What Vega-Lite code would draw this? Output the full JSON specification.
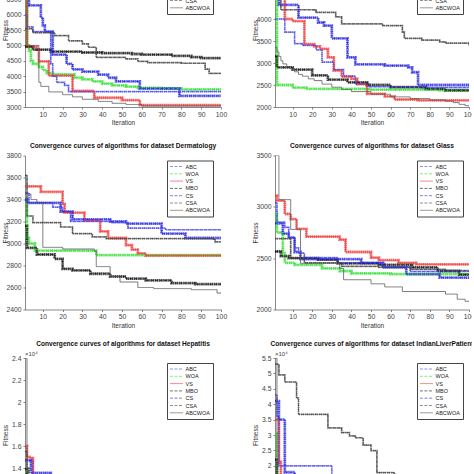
{
  "$schema": "https://vega.github.io/schema/vega-lite/v6.json",
  "background": "white",
  "padding": {"top": -50, "left": 2, "right": -3, "bottom": -55},
  "data": {"values": [
    {"p":"T1","a":"ABC","i":1,"v":6000},{"p":"T1","a":"ABC","i":2,"v":5600},{"p":"T1","a":"ABC","i":5,"v":5450},{"p":"T1","a":"ABC","i":14,"v":4400},{"p":"T1","a":"ABC","i":15,"v":4000},{"p":"T1","a":"ABC","i":17,"v":3800},{"p":"T1","a":"ABC","i":21,"v":3700},{"p":"T1","a":"ABC","i":23,"v":3500},{"p":"T1","a":"ABC","i":100,"v":3500},
    {"p":"T1","a":"WOA","i":1,"v":7000},{"p":"T1","a":"WOA","i":2,"v":5000},{"p":"T1","a":"WOA","i":3,"v":4830},{"p":"T1","a":"WOA","i":4,"v":4500},{"p":"T1","a":"WOA","i":5,"v":4400},{"p":"T1","a":"WOA","i":8,"v":4300},{"p":"T1","a":"WOA","i":10,"v":4200},{"p":"T1","a":"WOA","i":12,"v":4100},{"p":"T1","a":"WOA","i":15,"v":4060},{"p":"T1","a":"WOA","i":26,"v":3950},{"p":"T1","a":"WOA","i":30,"v":3900},{"p":"T1","a":"WOA","i":35,"v":3830},{"p":"T1","a":"WOA","i":40,"v":3760},{"p":"T1","a":"WOA","i":45,"v":3700},{"p":"T1","a":"WOA","i":52,"v":3660},{"p":"T1","a":"WOA","i":58,"v":3620},{"p":"T1","a":"WOA","i":70,"v":3600},{"p":"T1","a":"WOA","i":80,"v":3570},{"p":"T1","a":"WOA","i":100,"v":3570},
    {"p":"T1","a":"VS","i":1,"v":7500},{"p":"T1","a":"VS","i":2,"v":4950},{"p":"T1","a":"VS","i":7,"v":4860},{"p":"T1","a":"VS","i":8,"v":4480},{"p":"T1","a":"VS","i":13,"v":4020},{"p":"T1","a":"VS","i":25,"v":3520},{"p":"T1","a":"VS","i":36,"v":3300},{"p":"T1","a":"VS","i":50,"v":3220},{"p":"T1","a":"VS","i":59,"v":3060},{"p":"T1","a":"VS","i":100,"v":3050},
    {"p":"T1","a":"MBO","i":1,"v":4960},{"p":"T1","a":"MBO","i":5,"v":4860},{"p":"T1","a":"MBO","i":14,"v":4800},{"p":"T1","a":"MBO","i":30,"v":4770},{"p":"T1","a":"MBO","i":40,"v":4750},{"p":"T1","a":"MBO","i":55,"v":4720},{"p":"T1","a":"MBO","i":60,"v":4700},{"p":"T1","a":"MBO","i":75,"v":4660},{"p":"T1","a":"MBO","i":85,"v":4620},{"p":"T1","a":"MBO","i":90,"v":4590},{"p":"T1","a":"MBO","i":100,"v":4580},
    {"p":"T1","a":"CS","i":1,"v":6800},{"p":"T1","a":"CS","i":3,"v":6300},{"p":"T1","a":"CS","i":9,"v":5900},{"p":"T1","a":"CS","i":10,"v":5650},{"p":"T1","a":"CS","i":11,"v":5450},{"p":"T1","a":"CS","i":15,"v":4700},{"p":"T1","a":"CS","i":22,"v":4400},{"p":"T1","a":"CS","i":25,"v":4220},{"p":"T1","a":"CS","i":30,"v":4150},{"p":"T1","a":"CS","i":38,"v":4050},{"p":"T1","a":"CS","i":43,"v":3950},{"p":"T1","a":"CS","i":47,"v":3830},{"p":"T1","a":"CS","i":59,"v":3600},{"p":"T1","a":"CS","i":79,"v":3360},{"p":"T1","a":"CS","i":100,"v":3360},
    {"p":"T1","a":"CSA","i":1,"v":5540},{"p":"T1","a":"CSA","i":5,"v":5410},{"p":"T1","a":"CSA","i":16,"v":5320},{"p":"T1","a":"CSA","i":23,"v":5150},{"p":"T1","a":"CSA","i":30,"v":5050},{"p":"T1","a":"CSA","i":33,"v":4940},{"p":"T1","a":"CSA","i":37,"v":4610},{"p":"T1","a":"CSA","i":52,"v":4560},{"p":"T1","a":"CSA","i":58,"v":4480},{"p":"T1","a":"CSA","i":63,"v":4440},{"p":"T1","a":"CSA","i":80,"v":4420},{"p":"T1","a":"CSA","i":92,"v":4230},{"p":"T1","a":"CSA","i":94,"v":4090},{"p":"T1","a":"CSA","i":100,"v":4090},
    {"p":"T1","a":"ABCWOA","i":1,"v":6600},{"p":"T1","a":"ABCWOA","i":2,"v":5000},{"p":"T1","a":"ABCWOA","i":8,"v":3800},{"p":"T1","a":"ABCWOA","i":9,"v":3670},{"p":"T1","a":"ABCWOA","i":13,"v":3490},{"p":"T1","a":"ABCWOA","i":20,"v":3400},{"p":"T1","a":"ABCWOA","i":25,"v":3330},{"p":"T1","a":"ABCWOA","i":30,"v":3250},{"p":"T1","a":"ABCWOA","i":38,"v":3180},{"p":"T1","a":"ABCWOA","i":45,"v":3120},{"p":"T1","a":"ABCWOA","i":52,"v":3080},{"p":"T1","a":"ABCWOA","i":60,"v":3030},{"p":"T1","a":"ABCWOA","i":100,"v":3030},

    {"p":"T2","a":"ABC","i":1,"v":4000},{"p":"T2","a":"ABC","i":6,"v":3700},{"p":"T2","a":"ABC","i":11,"v":3440},{"p":"T2","a":"ABC","i":15,"v":3400},{"p":"T2","a":"ABC","i":22,"v":3300},{"p":"T2","a":"ABC","i":25,"v":3020},{"p":"T2","a":"ABC","i":31,"v":2850},{"p":"T2","a":"ABC","i":36,"v":2700},{"p":"T2","a":"ABC","i":42,"v":2520},{"p":"T2","a":"ABC","i":49,"v":2460},{"p":"T2","a":"ABC","i":75,"v":2440},{"p":"T2","a":"ABC","i":100,"v":2440},
    {"p":"T2","a":"WOA","i":1,"v":4500},{"p":"T2","a":"WOA","i":2,"v":2500},{"p":"T2","a":"WOA","i":10,"v":2440},{"p":"T2","a":"WOA","i":17,"v":2410},{"p":"T2","a":"WOA","i":50,"v":2395},{"p":"T2","a":"WOA","i":85,"v":2380},{"p":"T2","a":"WOA","i":100,"v":2375},
    {"p":"T2","a":"VS","i":1,"v":4800},{"p":"T2","a":"VS","i":6,"v":4000},{"p":"T2","a":"VS","i":10,"v":3950},{"p":"T2","a":"VS","i":16,"v":3430},{"p":"T2","a":"VS","i":21,"v":3380},{"p":"T2","a":"VS","i":24,"v":3320},{"p":"T2","a":"VS","i":28,"v":3130},{"p":"T2","a":"VS","i":31,"v":2830},{"p":"T2","a":"VS","i":35,"v":2690},{"p":"T2","a":"VS","i":40,"v":2640},{"p":"T2","a":"VS","i":43,"v":2520},{"p":"T2","a":"VS","i":48,"v":2300},{"p":"T2","a":"VS","i":57,"v":2240},{"p":"T2","a":"VS","i":62,"v":2170},{"p":"T2","a":"VS","i":74,"v":2150},{"p":"T2","a":"VS","i":100,"v":2150},
    {"p":"T2","a":"MBO","i":1,"v":3150},{"p":"T2","a":"MBO","i":2,"v":2900},{"p":"T2","a":"MBO","i":10,"v":2850},{"p":"T2","a":"MBO","i":20,"v":2720},{"p":"T2","a":"MBO","i":28,"v":2620},{"p":"T2","a":"MBO","i":38,"v":2560},{"p":"T2","a":"MBO","i":48,"v":2500},{"p":"T2","a":"MBO","i":60,"v":2450},{"p":"T2","a":"MBO","i":78,"v":2410},{"p":"T2","a":"MBO","i":88,"v":2380},{"p":"T2","a":"MBO","i":100,"v":2370},
    {"p":"T2","a":"CS","i":1,"v":4600},{"p":"T2","a":"CS","i":3,"v":4320},{"p":"T2","a":"CS","i":13,"v":4030},{"p":"T2","a":"CS","i":23,"v":3920},{"p":"T2","a":"CS","i":26,"v":3850},{"p":"T2","a":"CS","i":30,"v":3560},{"p":"T2","a":"CS","i":38,"v":3130},{"p":"T2","a":"CS","i":42,"v":2970},{"p":"T2","a":"CS","i":57,"v":2940},{"p":"T2","a":"CS","i":69,"v":2900},{"p":"T2","a":"CS","i":71,"v":2790},{"p":"T2","a":"CS","i":74,"v":2500},{"p":"T2","a":"CS","i":100,"v":2500},
    {"p":"T2","a":"CSA","i":1,"v":4700},{"p":"T2","a":"CSA","i":4,"v":4210},{"p":"T2","a":"CSA","i":21,"v":4200},{"p":"T2","a":"CSA","i":22,"v":4150},{"p":"T2","a":"CSA","i":32,"v":4050},{"p":"T2","a":"CSA","i":35,"v":3890},{"p":"T2","a":"CSA","i":56,"v":3850},{"p":"T2","a":"CSA","i":66,"v":3700},{"p":"T2","a":"CSA","i":67,"v":3560},{"p":"T2","a":"CSA","i":76,"v":3520},{"p":"T2","a":"CSA","i":85,"v":3480},{"p":"T2","a":"CSA","i":88,"v":3450},{"p":"T2","a":"CSA","i":100,"v":3400},
    {"p":"T2","a":"ABCWOA","i":1,"v":3350},{"p":"T2","a":"ABCWOA","i":2,"v":3250},{"p":"T2","a":"ABCWOA","i":3,"v":3150},{"p":"T2","a":"ABCWOA","i":4,"v":3050},{"p":"T2","a":"ABCWOA","i":5,"v":2980},{"p":"T2","a":"ABCWOA","i":7,"v":2920},{"p":"T2","a":"ABCWOA","i":9,"v":2860},{"p":"T2","a":"ABCWOA","i":11,"v":2800},{"p":"T2","a":"ABCWOA","i":13,"v":2740},{"p":"T2","a":"ABCWOA","i":15,"v":2700},{"p":"T2","a":"ABCWOA","i":18,"v":2640},{"p":"T2","a":"ABCWOA","i":21,"v":2600},{"p":"T2","a":"ABCWOA","i":25,"v":2520},{"p":"T2","a":"ABCWOA","i":30,"v":2450},{"p":"T2","a":"ABCWOA","i":35,"v":2400},{"p":"T2","a":"ABCWOA","i":40,"v":2350},{"p":"T2","a":"ABCWOA","i":50,"v":2290},{"p":"T2","a":"ABCWOA","i":60,"v":2230},{"p":"T2","a":"ABCWOA","i":70,"v":2190},{"p":"T2","a":"ABCWOA","i":80,"v":2160},{"p":"T2","a":"ABCWOA","i":88,"v":2130},{"p":"T2","a":"ABCWOA","i":92,"v":2100},{"p":"T2","a":"ABCWOA","i":95,"v":2060},{"p":"T2","a":"ABCWOA","i":98,"v":2030},{"p":"T2","a":"ABCWOA","i":100,"v":2010},

    {"p":"M1","a":"ABC","i":1,"v":3460},{"p":"M1","a":"ABC","i":3,"v":3370},{"p":"M1","a":"ABC","i":15,"v":3330},{"p":"M1","a":"ABC","i":20,"v":3290},{"p":"M1","a":"ABC","i":24,"v":3200},{"p":"M1","a":"ABC","i":45,"v":3190},{"p":"M1","a":"ABC","i":53,"v":3140},{"p":"M1","a":"ABC","i":72,"v":3125},{"p":"M1","a":"ABC","i":100,"v":3125},
    {"p":"M1","a":"WOA","i":1,"v":3400},{"p":"M1","a":"WOA","i":2,"v":3050},{"p":"M1","a":"WOA","i":3,"v":3000},{"p":"M1","a":"WOA","i":6,"v":2935},{"p":"M1","a":"WOA","i":37,"v":2895},{"p":"M1","a":"WOA","i":100,"v":2890},
    {"p":"M1","a":"VS","i":1,"v":3520},{"p":"M1","a":"VS","i":9,"v":3470},{"p":"M1","a":"VS","i":20,"v":3360},{"p":"M1","a":"VS","i":21,"v":3280},{"p":"M1","a":"VS","i":31,"v":3210},{"p":"M1","a":"VS","i":39,"v":3110},{"p":"M1","a":"VS","i":43,"v":3050},{"p":"M1","a":"VS","i":52,"v":2985},{"p":"M1","a":"VS","i":55,"v":2945},{"p":"M1","a":"VS","i":58,"v":2910},{"p":"M1","a":"VS","i":62,"v":2890},{"p":"M1","a":"VS","i":100,"v":2890},
    {"p":"M1","a":"MBO","i":1,"v":3160},{"p":"M1","a":"MBO","i":2,"v":2960},{"p":"M1","a":"MBO","i":7,"v":2900},{"p":"M1","a":"MBO","i":16,"v":2860},{"p":"M1","a":"MBO","i":20,"v":2770},{"p":"M1","a":"MBO","i":25,"v":2755},{"p":"M1","a":"MBO","i":34,"v":2725},{"p":"M1","a":"MBO","i":44,"v":2700},{"p":"M1","a":"MBO","i":52,"v":2680},{"p":"M1","a":"MBO","i":62,"v":2665},{"p":"M1","a":"MBO","i":75,"v":2640},{"p":"M1","a":"MBO","i":87,"v":2630},{"p":"M1","a":"MBO","i":100,"v":2625},
    {"p":"M1","a":"CS","i":1,"v":3400},{"p":"M1","a":"CS","i":2,"v":3370},{"p":"M1","a":"CS","i":19,"v":3290},{"p":"M1","a":"CS","i":25,"v":3220},{"p":"M1","a":"CS","i":44,"v":3200},{"p":"M1","a":"CS","i":52,"v":3180},{"p":"M1","a":"CS","i":70,"v":3090},{"p":"M1","a":"CS","i":82,"v":3050},{"p":"M1","a":"CS","i":100,"v":3045},
    {"p":"M1","a":"CSA","i":1,"v":3620},{"p":"M1","a":"CSA","i":2,"v":3250},{"p":"M1","a":"CSA","i":5,"v":3190},{"p":"M1","a":"CSA","i":19,"v":3150},{"p":"M1","a":"CSA","i":25,"v":3090},{"p":"M1","a":"CSA","i":35,"v":3060},{"p":"M1","a":"CSA","i":42,"v":3045},{"p":"M1","a":"CSA","i":96,"v":3040},{"p":"M1","a":"CSA","i":97,"v":3015},{"p":"M1","a":"CSA","i":100,"v":3015},
    {"p":"M1","a":"ABCWOA","i":1,"v":3450},{"p":"M1","a":"ABCWOA","i":4,"v":3400},{"p":"M1","a":"ABCWOA","i":7,"v":3370},{"p":"M1","a":"ABCWOA","i":10,"v":2965},{"p":"M1","a":"ABCWOA","i":20,"v":2950},{"p":"M1","a":"ABCWOA","i":36,"v":2930},{"p":"M1","a":"ABCWOA","i":37,"v":2790},{"p":"M1","a":"ABCWOA","i":44,"v":2700},{"p":"M1","a":"ABCWOA","i":49,"v":2650},{"p":"M1","a":"ABCWOA","i":58,"v":2600},{"p":"M1","a":"ABCWOA","i":66,"v":2590},{"p":"M1","a":"ABCWOA","i":85,"v":2580},{"p":"M1","a":"ABCWOA","i":98,"v":2550},{"p":"M1","a":"ABCWOA","i":100,"v":2545},

    {"p":"M2","a":"ABC","i":1,"v":3040},{"p":"M2","a":"ABC","i":2,"v":2850},{"p":"M2","a":"ABC","i":6,"v":2800},{"p":"M2","a":"ABC","i":8,"v":2700},{"p":"M2","a":"ABC","i":11,"v":2600},{"p":"M2","a":"ABC","i":13,"v":2550},{"p":"M2","a":"ABC","i":16,"v":2505},{"p":"M2","a":"ABC","i":33,"v":2455},{"p":"M2","a":"ABC","i":57,"v":2415},{"p":"M2","a":"ABC","i":70,"v":2370},{"p":"M2","a":"ABC","i":100,"v":2365},
    {"p":"M2","a":"WOA","i":1,"v":2930},{"p":"M2","a":"WOA","i":2,"v":2750},{"p":"M2","a":"WOA","i":5,"v":2550},{"p":"M2","a":"WOA","i":6,"v":2455},{"p":"M2","a":"WOA","i":11,"v":2435},{"p":"M2","a":"WOA","i":25,"v":2400},{"p":"M2","a":"WOA","i":34,"v":2375},{"p":"M2","a":"WOA","i":40,"v":2352},{"p":"M2","a":"WOA","i":60,"v":2345},{"p":"M2","a":"WOA","i":100,"v":2340},
    {"p":"M2","a":"VS","i":1,"v":3110},{"p":"M2","a":"VS","i":2,"v":3060},{"p":"M2","a":"VS","i":6,"v":2930},{"p":"M2","a":"VS","i":9,"v":2880},{"p":"M2","a":"VS","i":12,"v":2785},{"p":"M2","a":"VS","i":17,"v":2710},{"p":"M2","a":"VS","i":34,"v":2680},{"p":"M2","a":"VS","i":37,"v":2560},{"p":"M2","a":"VS","i":50,"v":2505},{"p":"M2","a":"VS","i":54,"v":2480},{"p":"M2","a":"VS","i":64,"v":2455},{"p":"M2","a":"VS","i":73,"v":2440},{"p":"M2","a":"VS","i":100,"v":2440},
    {"p":"M2","a":"MBO","i":1,"v":2565},{"p":"M2","a":"MBO","i":4,"v":2520},{"p":"M2","a":"MBO","i":8,"v":2500},{"p":"M2","a":"MBO","i":23,"v":2485},{"p":"M2","a":"MBO","i":33,"v":2450},{"p":"M2","a":"MBO","i":54,"v":2435},{"p":"M2","a":"MBO","i":71,"v":2410},{"p":"M2","a":"MBO","i":84,"v":2375},{"p":"M2","a":"MBO","i":95,"v":2340},{"p":"M2","a":"MBO","i":100,"v":2335},
    {"p":"M2","a":"CS","i":1,"v":2840},{"p":"M2","a":"CS","i":5,"v":2740},{"p":"M2","a":"CS","i":8,"v":2700},{"p":"M2","a":"CS","i":11,"v":2560},{"p":"M2","a":"CS","i":14,"v":2490},{"p":"M2","a":"CS","i":45,"v":2455},{"p":"M2","a":"CS","i":56,"v":2410},{"p":"M2","a":"CS","i":68,"v":2345},{"p":"M2","a":"CS","i":85,"v":2310},{"p":"M2","a":"CS","i":100,"v":2310},
    {"p":"M2","a":"CSA","i":1,"v":2690},{"p":"M2","a":"CSA","i":9,"v":2500},{"p":"M2","a":"CSA","i":16,"v":2455},{"p":"M2","a":"CSA","i":35,"v":2420},{"p":"M2","a":"CSA","i":54,"v":2410},{"p":"M2","a":"CSA","i":70,"v":2390},{"p":"M2","a":"CSA","i":88,"v":2380},{"p":"M2","a":"CSA","i":100,"v":2380},
    {"p":"M2","a":"ABCWOA","i":1,"v":3500},{"p":"M2","a":"ABCWOA","i":3,"v":3070},{"p":"M2","a":"ABCWOA","i":9,"v":2780},{"p":"M2","a":"ABCWOA","i":14,"v":2450},{"p":"M2","a":"ABCWOA","i":34,"v":2400},{"p":"M2","a":"ABCWOA","i":36,"v":2290},{"p":"M2","a":"ABCWOA","i":50,"v":2250},{"p":"M2","a":"ABCWOA","i":57,"v":2220},{"p":"M2","a":"ABCWOA","i":66,"v":2175},{"p":"M2","a":"ABCWOA","i":88,"v":2150},{"p":"M2","a":"ABCWOA","i":94,"v":2100},{"p":"M2","a":"ABCWOA","i":98,"v":2080},{"p":"M2","a":"ABCWOA","i":100,"v":2075},

    {"p":"B1","a":"ABC","i":1,"v":14700},{"p":"B1","a":"ABC","i":4,"v":14650},{"p":"B1","a":"ABC","i":5,"v":13000},{"p":"B1","a":"ABC","i":30,"v":12200},{"p":"B1","a":"ABC","i":100,"v":11800},
    {"p":"B1","a":"WOA","i":1,"v":13650},{"p":"B1","a":"WOA","i":2,"v":13000},{"p":"B1","a":"WOA","i":20,"v":12300},{"p":"B1","a":"WOA","i":100,"v":11900},
    {"p":"B1","a":"VS","i":1,"v":16000},{"p":"B1","a":"VS","i":2,"v":15000},{"p":"B1","a":"VS","i":4,"v":14900},{"p":"B1","a":"VS","i":5,"v":13000},{"p":"B1","a":"VS","i":40,"v":12400},{"p":"B1","a":"VS","i":100,"v":12100},
    {"p":"B1","a":"MBO","i":1,"v":13900},{"p":"B1","a":"MBO","i":2,"v":13100},{"p":"B1","a":"MBO","i":30,"v":12500},{"p":"B1","a":"MBO","i":100,"v":12200},
    {"p":"B1","a":"CS","i":1,"v":14700},{"p":"B1","a":"CS","i":4,"v":13550},{"p":"B1","a":"CS","i":14,"v":12800},{"p":"B1","a":"CS","i":50,"v":12300},{"p":"B1","a":"CS","i":100,"v":12000},
    {"p":"B1","a":"CSA","i":1,"v":15500},{"p":"B1","a":"CSA","i":2,"v":14000},{"p":"B1","a":"CSA","i":3,"v":13000},{"p":"B1","a":"CSA","i":60,"v":12500},{"p":"B1","a":"CSA","i":100,"v":12300},
    {"p":"B1","a":"ABCWOA","i":1,"v":24000},{"p":"B1","a":"ABCWOA","i":2,"v":13000},{"p":"B1","a":"ABCWOA","i":40,"v":11900},{"p":"B1","a":"ABCWOA","i":100,"v":11500},

    {"p":"B2","a":"ABC","i":1,"v":43000},{"p":"B2","a":"ABC","i":2,"v":36000},{"p":"B2","a":"ABC","i":3,"v":20000},{"p":"B2","a":"ABC","i":30,"v":12000},{"p":"B2","a":"ABC","i":100,"v":10000},
    {"p":"B2","a":"WOA","i":1,"v":30500},{"p":"B2","a":"WOA","i":2,"v":16000},{"p":"B2","a":"WOA","i":40,"v":11000},{"p":"B2","a":"WOA","i":100,"v":10000},
    {"p":"B2","a":"VS","i":1,"v":35000},{"p":"B2","a":"VS","i":3,"v":21300},{"p":"B2","a":"VS","i":4,"v":14000},{"p":"B2","a":"VS","i":50,"v":11000},{"p":"B2","a":"VS","i":100,"v":10500},
    {"p":"B2","a":"MBO","i":1,"v":22000},{"p":"B2","a":"MBO","i":2,"v":15000},{"p":"B2","a":"MBO","i":50,"v":11500},{"p":"B2","a":"MBO","i":100,"v":11000},
    {"p":"B2","a":"CS","i":1,"v":41000},{"p":"B2","a":"CS","i":3,"v":35000},{"p":"B2","a":"CS","i":6,"v":17900},{"p":"B2","a":"CS","i":11,"v":12000},{"p":"B2","a":"CS","i":100,"v":10200},
    {"p":"B2","a":"CSA","i":1,"v":53000},{"p":"B2","a":"CSA","i":3,"v":49500},{"p":"B2","a":"CSA","i":6,"v":47200},{"p":"B2","a":"CSA","i":12,"v":42000},{"p":"B2","a":"CSA","i":13,"v":36700},{"p":"B2","a":"CSA","i":28,"v":32300},{"p":"B2","a":"CSA","i":35,"v":30800},{"p":"B2","a":"CSA","i":39,"v":29700},{"p":"B2","a":"CSA","i":42,"v":29100},{"p":"B2","a":"CSA","i":46,"v":26700},{"p":"B2","a":"CSA","i":50,"v":24900},{"p":"B2","a":"CSA","i":53,"v":17800},{"p":"B2","a":"CSA","i":62,"v":14000},{"p":"B2","a":"CSA","i":100,"v":12000},
    {"p":"B2","a":"ABCWOA","i":1,"v":55000},{"p":"B2","a":"ABCWOA","i":2,"v":15000},{"p":"B2","a":"ABCWOA","i":50,"v":10000},{"p":"B2","a":"ABCWOA","i":100,"v":9500}
  ]},
  "columns": 2,
  "spacing": {"row": 48.5, "column": 54},
  "bounds": "flush",
  "resolve": {
    "scale": {"x": "independent", "y": "independent", "color": "independent", "strokeDash": "independent"},
    "legend": {"color": "independent", "strokeDash": "independent"}
  },
  "concat": [
    {
      "width": 196, "height": 154,
      "transform": [{"filter": "datum.p === 'T1'"}],
      "encoding": {
        "x": {"field": "i", "type": "quantitative", "scale": {"domain": [1, 100], "nice": false, "zero": false}, "axis": {"values": [10,20,30,40,50,60,70,80,90,100], "title": "Iteration"}},
        "y": {"field": "v", "type": "quantitative", "scale": {"domain": [3000, 8000], "nice": false, "zero": false}, "axis": {"values": [3000,3500,4000,4500,5000,5500,6000,6500,7000,7500,8000], "format": "d", "title": "Fitness"}},
        "color": {"field": "a", "type": "nominal", "scale": {"domain": ["ABC","WOA","VS","MBO","CS","CSA","ABCWOA"], "range": ["#4646f0","#2fe02f","#f03a3a","#111111","#2626e0","#454545","#555555"]}, "legend": {"title": null}}
      },
      "layer": [
        {"transform": [{"filter": "indexof(['WOA','VS','MBO','CS'], datum.a) >= 0"}], "mark": {"type": "line", "interpolate": "step-after", "clip": true, "opacity": 0.75, "strokeWidth": 2.8, "strokeDash": [1.4, 0.5]}},
        {"transform": [{"filter": "indexof(['ABC','CSA'], datum.a) >= 0"}], "mark": {"type": "line", "interpolate": "step-after", "clip": true, "opacity": 0.8, "strokeWidth": 1.7, "strokeDash": [1.4, 0.6]}},
        {"mark": {"type": "line", "interpolate": "step-after", "clip": true, "strokeWidth": 0.8}, "encoding": {"strokeDash": {"field": "a", "type": "nominal", "scale": {"domain": ["ABC","WOA","VS","MBO","CS","CSA","ABCWOA"], "range": [[3,1.5],[3,1.5],[1,0],[3,1.5],[3,1.5],[3,1.5],[1,0]]}, "legend": {"title": null}}}}
      ]
    },
    {
      "width": 194, "height": 154,
      "transform": [{"filter": "datum.p === 'T2'"}],
      "encoding": {
        "x": {"field": "i", "type": "quantitative", "scale": {"domain": [1, 100], "nice": false, "zero": false}, "axis": {"values": [10,20,30,40,50,60,70,80,90,100], "title": "Iteration"}},
        "y": {"field": "v", "type": "quantitative", "scale": {"domain": [2000, 5500], "nice": false, "zero": false}, "axis": {"values": [2000,2500,3000,3500,4000,4500,5000,5500], "format": "d", "title": "Fitness"}},
        "color": {"field": "a", "type": "nominal", "scale": {"domain": ["ABC","WOA","VS","MBO","CS","CSA","ABCWOA"], "range": ["#4646f0","#2fe02f","#f03a3a","#111111","#2626e0","#454545","#555555"]}, "legend": {"title": null}}
      },
      "layer": [
        {"transform": [{"filter": "indexof(['WOA','VS','MBO','CS'], datum.a) >= 0"}], "mark": {"type": "line", "interpolate": "step-after", "clip": true, "opacity": 0.75, "strokeWidth": 2.8, "strokeDash": [1.4, 0.5]}},
        {"transform": [{"filter": "indexof(['ABC','CSA'], datum.a) >= 0"}], "mark": {"type": "line", "interpolate": "step-after", "clip": true, "opacity": 0.8, "strokeWidth": 1.7, "strokeDash": [1.4, 0.6]}},
        {"mark": {"type": "line", "interpolate": "step-after", "clip": true, "strokeWidth": 0.8}, "encoding": {"strokeDash": {"field": "a", "type": "nominal", "scale": {"domain": ["ABC","WOA","VS","MBO","CS","CSA","ABCWOA"], "range": [[3,1.5],[3,1.5],[1,0],[3,1.5],[3,1.5],[3,1.5],[1,0]]}, "legend": {"title": null}}}}
      ]
    },
    {
      "width": 196, "height": 154,
      "title": "Convergence curves of algorithms for dataset Dermatology",
      "transform": [{"filter": "datum.p === 'M1'"}],
      "encoding": {
        "x": {"field": "i", "type": "quantitative", "scale": {"domain": [1, 100], "nice": false, "zero": false}, "axis": {"values": [10,20,30,40,50,60,70,80,90,100], "title": "Iteration"}},
        "y": {"field": "v", "type": "quantitative", "scale": {"domain": [2400, 3800], "nice": false, "zero": false}, "axis": {"values": [2400,2600,2800,3000,3200,3400,3600,3800], "format": "d", "title": "Fitness"}},
        "color": {"field": "a", "type": "nominal", "scale": {"domain": ["ABC","WOA","VS","MBO","CS","CSA","ABCWOA"], "range": ["#4646f0","#2fe02f","#f03a3a","#111111","#2626e0","#454545","#555555"]}, "legend": {"title": null}}
      },
      "layer": [
        {"transform": [{"filter": "indexof(['WOA','VS','MBO','CS'], datum.a) >= 0"}], "mark": {"type": "line", "interpolate": "step-after", "clip": true, "opacity": 0.75, "strokeWidth": 2.8, "strokeDash": [1.4, 0.5]}},
        {"transform": [{"filter": "indexof(['ABC','CSA'], datum.a) >= 0"}], "mark": {"type": "line", "interpolate": "step-after", "clip": true, "opacity": 0.8, "strokeWidth": 1.7, "strokeDash": [1.4, 0.6]}},
        {"mark": {"type": "line", "interpolate": "step-after", "clip": true, "strokeWidth": 0.8}, "encoding": {"strokeDash": {"field": "a", "type": "nominal", "scale": {"domain": ["ABC","WOA","VS","MBO","CS","CSA","ABCWOA"], "range": [[3,1.5],[3,1.5],[1,0],[3,1.5],[3,1.5],[3,1.5],[1,0]]}, "legend": {"title": null}}}}
      ]
    },
    {
      "width": 194, "height": 154,
      "title": "Convergence curves of algorithms for dataset Glass",
      "transform": [{"filter": "datum.p === 'M2'"}],
      "encoding": {
        "x": {"field": "i", "type": "quantitative", "scale": {"domain": [1, 100], "nice": false, "zero": false}, "axis": {"values": [10,20,30,40,50,60,70,80,90,100], "title": "Iteration"}},
        "y": {"field": "v", "type": "quantitative", "scale": {"domain": [2000, 3500], "nice": false, "zero": false}, "axis": {"values": [2000,2500,3000,3500], "format": "d", "title": "Fitness"}},
        "color": {"field": "a", "type": "nominal", "scale": {"domain": ["ABC","WOA","VS","MBO","CS","CSA","ABCWOA"], "range": ["#4646f0","#2fe02f","#f03a3a","#111111","#2626e0","#454545","#555555"]}, "legend": {"title": null}}
      },
      "layer": [
        {"transform": [{"filter": "indexof(['WOA','VS','MBO','CS'], datum.a) >= 0"}], "mark": {"type": "line", "interpolate": "step-after", "clip": true, "opacity": 0.75, "strokeWidth": 2.8, "strokeDash": [1.4, 0.5]}},
        {"transform": [{"filter": "indexof(['ABC','CSA'], datum.a) >= 0"}], "mark": {"type": "line", "interpolate": "step-after", "clip": true, "opacity": 0.8, "strokeWidth": 1.7, "strokeDash": [1.4, 0.6]}},
        {"mark": {"type": "line", "interpolate": "step-after", "clip": true, "strokeWidth": 0.8}, "encoding": {"strokeDash": {"field": "a", "type": "nominal", "scale": {"domain": ["ABC","WOA","VS","MBO","CS","CSA","ABCWOA"], "range": [[3,1.5],[3,1.5],[1,0],[3,1.5],[3,1.5],[3,1.5],[1,0]]}, "legend": {"title": null}}}}
      ]
    },
    {
      "width": 196, "height": 154,
      "title": "Convergence curves of algorithms for dataset Hepatitis",
      "transform": [{"filter": "datum.p === 'B1'"}],
      "encoding": {
        "x": {"field": "i", "type": "quantitative", "scale": {"domain": [1, 100], "nice": false, "zero": false}, "axis": {"values": [10,20,30,40,50,60,70,80,90,100], "title": "Iteration"}},
        "y": {"field": "v", "type": "quantitative", "scale": {"domain": [10000, 24000], "nice": false, "zero": false}, "axis": {"values": [10000,12000,14000,16000,18000,20000,22000,24000], "labelExpr": "format(datum.value / 10000, '.1~f')", "title": "Fitness"}},
        "color": {"field": "a", "type": "nominal", "scale": {"domain": ["ABC","WOA","VS","MBO","CS","CSA","ABCWOA"], "range": ["#4646f0","#2fe02f","#f03a3a","#111111","#2626e0","#454545","#555555"]}, "legend": {"title": null}}
      },
      "layer": [
        {"transform": [{"filter": "indexof(['WOA','VS','MBO','CS'], datum.a) >= 0"}], "mark": {"type": "line", "interpolate": "step-after", "clip": true, "opacity": 0.75, "strokeWidth": 2.8, "strokeDash": [1.4, 0.5]}},
        {"transform": [{"filter": "indexof(['ABC','CSA'], datum.a) >= 0"}], "mark": {"type": "line", "interpolate": "step-after", "clip": true, "opacity": 0.8, "strokeWidth": 1.7, "strokeDash": [1.4, 0.6]}},
        {"mark": {"type": "line", "interpolate": "step-after", "clip": true, "strokeWidth": 0.8}, "encoding": {"strokeDash": {"field": "a", "type": "nominal", "scale": {"domain": ["ABC","WOA","VS","MBO","CS","CSA","ABCWOA"], "range": [[3,1.5],[3,1.5],[1,0],[3,1.5],[3,1.5],[3,1.5],[1,0]]}, "legend": {"title": null}}}},
        {"transform": [{"filter": "datum.a === 'ABC' && datum.i === 1"}], "mark": {"type": "text", "text": "×10⁴", "align": "left", "baseline": "bottom", "dy": -1, "fontSize": 6}, "encoding": {"x": {"datum": 1}, "y": {"datum": 24000}, "color": {"value": "#444"}}}
      ]
    },
    {
      "width": 194, "height": 154,
      "title": "Convergence curves of algorithms for dataset IndianLiverPatient",
      "transform": [{"filter": "datum.p === 'B2'"}],
      "encoding": {
        "x": {"field": "i", "type": "quantitative", "scale": {"domain": [1, 100], "nice": false, "zero": false}, "axis": {"values": [10,20,30,40,50,60,70,80,90,100], "title": "Iteration"}},
        "y": {"field": "v", "type": "quantitative", "scale": {"domain": [5000, 55000], "nice": false, "zero": false}, "axis": {"values": [5000,10000,15000,20000,25000,30000,35000,40000,45000,50000,55000], "labelExpr": "format(datum.value / 10000, '.1~f')", "title": "Fitness"}},
        "color": {"field": "a", "type": "nominal", "scale": {"domain": ["ABC","WOA","VS","MBO","CS","CSA","ABCWOA"], "range": ["#4646f0","#2fe02f","#f03a3a","#111111","#2626e0","#454545","#555555"]}, "legend": {"title": null}}
      },
      "layer": [
        {"transform": [{"filter": "indexof(['WOA','VS','MBO','CS'], datum.a) >= 0"}], "mark": {"type": "line", "interpolate": "step-after", "clip": true, "opacity": 0.75, "strokeWidth": 2.8, "strokeDash": [1.4, 0.5]}},
        {"transform": [{"filter": "indexof(['ABC','CSA'], datum.a) >= 0"}], "mark": {"type": "line", "interpolate": "step-after", "clip": true, "opacity": 0.8, "strokeWidth": 1.7, "strokeDash": [1.4, 0.6]}},
        {"mark": {"type": "line", "interpolate": "step-after", "clip": true, "strokeWidth": 0.8}, "encoding": {"strokeDash": {"field": "a", "type": "nominal", "scale": {"domain": ["ABC","WOA","VS","MBO","CS","CSA","ABCWOA"], "range": [[3,1.5],[3,1.5],[1,0],[3,1.5],[3,1.5],[3,1.5],[1,0]]}, "legend": {"title": null}}}},
        {"transform": [{"filter": "datum.a === 'ABC' && datum.i === 1"}], "mark": {"type": "text", "text": "×10⁴", "align": "left", "baseline": "bottom", "dy": -1, "fontSize": 6}, "encoding": {"x": {"datum": 1}, "y": {"datum": 55000}, "color": {"value": "#444"}}}
      ]
    }
  ],
  "config": {
    "font": "Liberation Sans",
    "view": {"stroke": null},
    "axis": {
      "grid": false, "labelFont": "Liberation Sans", "labelFontSize": 6.8, "labelColor": "#444",
      "domainColor": "#555", "domainWidth": 0.7, "tickColor": "#555", "tickWidth": 0.7, "tickSize": 2,
      "labelPadding": 2, "labelFlush": false, "labelOverlap": false,
      "titleFont": "Liberation Sans", "titleFontSize": 6.5, "titleFontWeight": "normal", "titleColor": "#333"
    },
    "axisX": {"titlePadding": 2},
    "axisY": {"titleX": -20, "titleY": 77, "titleBaseline": "middle", "titleAngle": -90},
    "legend": {
      "orient": "none", "legendX": 142, "legendY": 5, "padding": 2.5, "rowPadding": 0.3, "clipHeight": 7,
      "strokeColor": "#444", "fillColor": "#ffffff", "labelFont": "Liberation Sans", "labelFontSize": 5.5,
      "labelColor": "#222", "symbolSize": 170, "symbolStrokeWidth": 0.8, "symbolType": "stroke", "labelOffset": 2
    },
    "title": {"font": "Liberation Sans", "fontSize": 6.6, "fontWeight": "bold", "offset": 3, "frame": "group", "color": "#111", "anchor": "middle"}
  }
}
